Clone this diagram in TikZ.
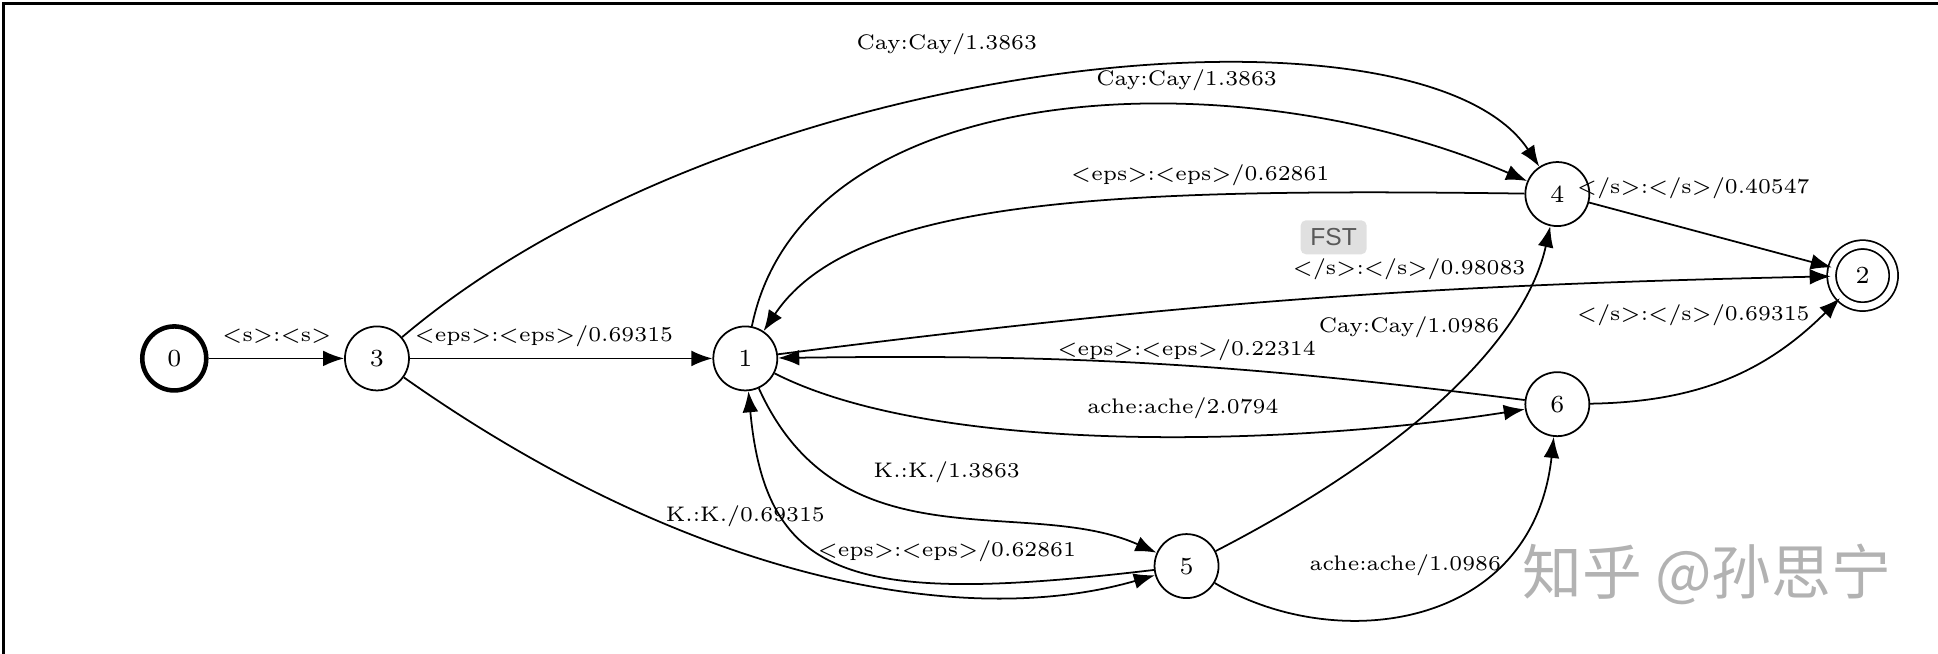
\documentclass[tikz,border=0pt]{standalone}
\usepackage{fontspec}
\newfontfamily\cjk{Noto Sans CJK SC}
\newfontfamily\sans{Liberation Sans}
\usetikzlibrary{arrows.meta}
\begin{document}
\begin{tikzpicture}[x=0.01236cm,y=-0.01236cm,
  st/.style={circle,draw,line width=0.5pt,minimum size=0.64cm,inner sep=0pt,font=\fontsize{7}{8}\selectfont},
  e/.style={line width=0.5pt,-{Latex[length=6pt,width=4.5pt]}},
  lb/.style={font=\fontsize{6}{7}\selectfont,inner sep=1pt}]
\useasboundingbox (0,0) rectangle (1568,529);
\draw[line width=0.9pt] (3,529) -- (3,3) -- (1568,3);
\node[st,line width=1.3pt] (n0) at (141,290) {0};
\node[st] (n3) at (305,290) {3};
\node[st] (n1) at (603,290) {1};
\node[st] (n4) at (1260,157) {4};
\node[st,double,double distance=2pt,minimum size=0.62cm] (n2) at (1507,223) {2};
\node[st] (n6) at (1260,327) {6};
\node[st] (n5) at (960,458) {5};
\draw[e] (n0) -- (n3);
\draw[e] (n3) -- (n1);
\draw[e] (n3) .. controls (600,40) and (1150,-10) .. (n4);
\draw[e] (n1) .. controls (650,60) and (1000,45) .. (n4);
\draw[e] (n4) .. controls (900,152) and (690,160) .. (n1);
\draw[e] (n1) to[bend left=3] (n2);
\draw[e] (n4) -- (n2);
\draw[e] (n6) to[bend right=22] (n2);
\draw[e] (n6) to[bend right=4] (n1);
\draw[e] (n1) .. controls (760,370) and (1050,360) .. (n6);
\draw[e] (n1) .. controls (680,460) and (830,400) .. (n5);
\draw[e] (n5) .. controls (690,490) and (620,470) .. (n1);
\draw[e] (n3) .. controls (560,470) and (780,510) .. (n5);
\draw[e] (n5) .. controls (1150,360) and (1235,270) .. (n4);
\draw[e] (n5) .. controls (1080,530) and (1240,510) .. (n6);
\node[lb] (l1) at (224,272) {\textless s\textgreater:\textless s\textgreater};
\node[lb] (l2) at (440,272) {\textless eps\textgreater:\textless eps\textgreater/0.69315};
\node[lb] (l3) at (766,36) {Cay:Cay/1.3863};
\node[lb] (l4) at (960,65) {Cay:Cay/1.3863};
\node[lb] (l5) at (971,142) {\textless eps\textgreater:\textless eps\textgreater/0.62861};
\node[lb] (l6) at (1140,218) {\textless/s\textgreater:\textless/s\textgreater/0.98083};
\node[lb] (l7) at (1370,152) {\textless/s\textgreater:\textless/s\textgreater/0.40547};
\node[lb] (l8) at (1370,255) {\textless/s\textgreater:\textless/s\textgreater/0.69315};
\node[lb] (l9) at (960,283) {\textless eps\textgreater:\textless eps\textgreater/0.22314};
\node[lb] (l10) at (957,330) {ache:ache/2.0794};
\node[lb] (l11) at (1140,265) {Cay:Cay/1.0986};
\node[lb] (l12) at (766,382) {K.:K./1.3863};
\node[lb] (l13) at (603,418) {K.:K./0.69315};
\node[lb] (l14) at (766,446) {\textless eps\textgreater:\textless eps\textgreater/0.62861};
\node[lb] (l15) at (1137,457) {ache:ache/1.0986};
\node[fill=black!12,rounded corners=1.5pt,minimum width=0.66cm,minimum height=0.34cm,inner sep=1pt,font=\sans\fontsize{7}{8}\selectfont,text=black!65] (fst) at (1079,192) {FST};
\node[font=\cjk\fontsize{17}{20}\selectfont,text=black!30] (wm) at (1381,465) {知乎 @孙思宁};
\end{tikzpicture}
\end{document}
